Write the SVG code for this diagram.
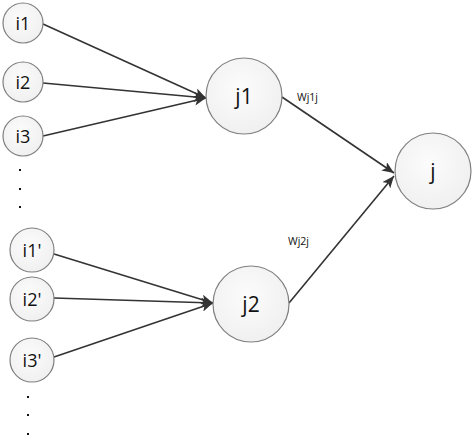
<svg xmlns="http://www.w3.org/2000/svg" width="474" height="437" viewBox="0 0 474 437">
<defs>
<radialGradient id="g" cx="0.45" cy="0.4" r="0.65">
<stop offset="0" stop-color="#fcfcfc"/>
<stop offset="1" stop-color="#efefef"/>
</radialGradient>
<marker id="arr" viewBox="0 0 12 10" refX="12" refY="5" markerWidth="12" markerHeight="10" markerUnits="userSpaceOnUse" orient="auto">
<path d="M0,0 L12,5 L0,10 L3,5 Z" fill="#333"/>
</marker>
</defs>
<style>
.n circle{fill:url(#g);stroke:#7f7f7f;stroke-width:1.2}
.n text{font-family:"Open Sans","Liberation Sans",sans-serif;fill:#111;text-anchor:middle;dominant-baseline:central}
.s{font-size:18px}
.b{font-size:21px}
.e line{stroke:#333;stroke-width:1.6;marker-end:url(#arr)}
.lbl{font-family:"Open Sans","Liberation Sans",sans-serif;font-size:10.5px;fill:#111}
.dot{fill:#111}
</style>
<rect width="474" height="437" fill="#fff"/>
<g id="connectors" class="e">
<line x1="43" y1="24" x2="206" y2="98"/>
<line x1="43" y1="83" x2="206" y2="98"/>
<line x1="43" y1="136" x2="206" y2="98"/>
<line x1="54" y1="254" x2="213" y2="303"/>
<line x1="54" y1="298" x2="213" y2="303"/>
<line x1="54" y1="357" x2="213" y2="303"/>
<line x1="282" y1="97" x2="394" y2="173"/>
<line x1="289" y1="303" x2="394" y2="176"/>
</g>
<g id="i1" class="n"><circle cx="23" cy="23" r="20"/><text class="s" x="23" y="23">i1</text></g>
<g id="i2" class="n"><circle cx="23" cy="82" r="20"/><text class="s" x="23" y="82">i2</text></g>
<g id="i3" class="n"><circle cx="23" cy="136" r="20"/><text class="s" x="23" y="136">i3</text></g>
<g id="i1p" class="n"><circle cx="32" cy="250" r="22"/><text class="s" x="32" y="250">i1'</text></g>
<g id="i2p" class="n"><circle cx="32" cy="299" r="22"/><text class="s" x="32" y="299">i2'</text></g>
<g id="i3p" class="n"><circle cx="32" cy="360" r="22"/><text class="s" x="32" y="360">i3'</text></g>
<g id="j1" class="n"><circle cx="244" cy="96" r="38"/><text class="b" x="244" y="96">j1</text></g>
<g id="j2" class="n"><circle cx="251" cy="304" r="38"/><text class="b" x="251" y="304">j2</text></g>
<g id="j" class="n"><circle cx="433" cy="171" r="38"/><text class="b" x="433" y="171">j</text></g>
<g id="dots">
<rect class="dot" x="19" y="169" width="2" height="2"/>
<rect class="dot" x="19" y="188" width="2" height="2"/>
<rect class="dot" x="19" y="206" width="2" height="2"/>
<rect class="dot" x="27" y="396" width="2" height="2"/>
<rect class="dot" x="27" y="414" width="2" height="2"/>
<rect class="dot" x="27" y="433" width="2" height="2"/>
</g>
<text class="lbl" x="297" y="101">Wj1j</text>
<text class="lbl" x="288" y="245">Wj2j</text>
</svg>
